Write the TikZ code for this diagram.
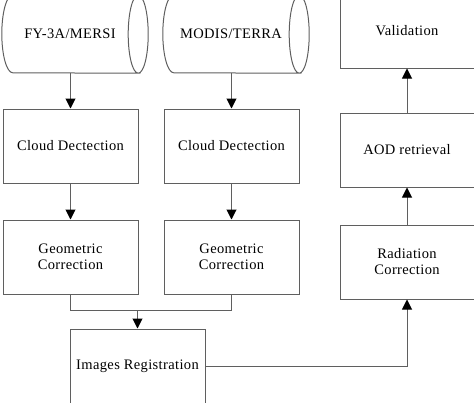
\documentclass[tikz,border=0pt]{standalone}
\usepackage{fontspec}
\setmainfont[LetterSpace=2.5]{Liberation Serif}
\usepackage{tikz}
\usetikzlibrary{positioning,arrows.meta}

\begin{document}
\begin{tikzpicture}[x=1pt, y=-1pt, node distance=36pt,
	every node/.style={font=\fontsize{14.5}{16}\selectfont},
	proc/.style={draw=linegray, line width=1pt, minimum width=135pt, minimum height=74pt, inner sep=0pt, align=center},
	src/.style={minimum width=136pt, minimum height=78pt, inner sep=0pt},
	line/.style={draw=linegray, line width=1pt},
	arr/.style={line, -{Triangle[black,width=10pt,length=10pt]}}]
	\definecolor{linegray}{RGB}{95,95,95}
	\clip (0,0) rectangle (474,402);

	\node[src] (fy) at (70,34) {FY-3A/MERSI};
	\node[src] (md) at (231,34) {MODIS/TERRA};

	% data sources drawn as lying cylinders
	\foreach \s in {fy,md} {
		\draw[line] ([xshift=11pt]\s.north west) arc[start angle=90, end angle=270, x radius=11pt, y radius=39pt]
			-- (\s.south east) arc[start angle=270, end angle=-90, x radius=10pt, y radius=39pt];
		\draw[line] ([xshift=11pt]\s.north west) -- (\s.north east);
	}

	\node[proc] (cd1) at (70.5,146) {Cloud Dectection};
	\node[proc] (cd2) at (231.5,146) {Cloud Dectection};

	\node[proc, below=of cd1] (gc1) {Geometric\\Correction};
	\node[proc, below=of cd2] (gc2) {Geometric\\Correction};

	\node[proc] (ir) at (137.5,366) {Images Registration};

	\node[proc, minimum width=134pt] (rc) at (407,262) {Radiation\\Correction};
	\node[proc, minimum width=134pt, above=37pt of rc] (aod) {AOD retrieval};
	\node[proc, minimum width=134pt, above=44pt of aod] (val) {Validation};

	\draw[arr] (cd1 |- fy.south) -- (cd1.north);
	\draw[arr] (cd2 |- md.south) -- (cd2.north);
	\draw[arr] (cd1) -- (gc1);
	\draw[arr] (cd2) -- (gc2);

	\path (ir.north) ++(0,-18) coordinate (jn);
	\draw[line] (gc1.south) |- (jn) -| (gc2.south);
	\draw[arr] (jn) -- (ir.north);

	\draw[arr] (ir.east) -| (rc.south);
	\draw[arr] (rc) -- (aod);
	\draw[arr] (aod) -- (val);
\end{tikzpicture}
\end{document}
